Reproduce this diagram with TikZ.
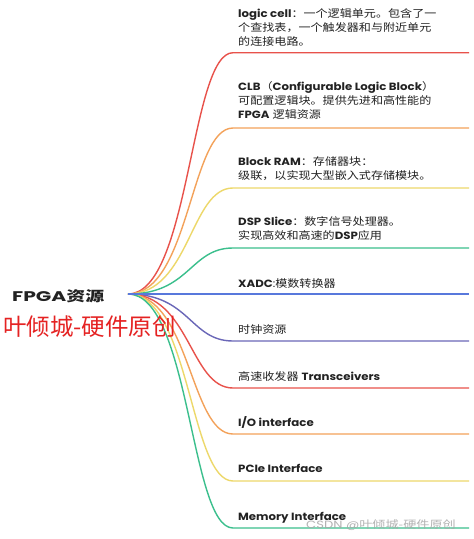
\documentclass[tikz,border=0pt]{standalone}
\usepackage{fontspec}
\setmainfont[FakeStretch=1.12]{Poppins}
\newfontfamily\cjk[FakeStretch=1.15]{Noto Sans CJK SC}
\newfontfamily\cjkroot[FakeStretch=1.35]{Noto Sans CJK SC}
\newfontfamily\latroot[FakeStretch=1.45]{Poppins}
\newfontfamily\cjkplain{Noto Sans CJK SC}
\newfontfamily\cjkwide[FakeStretch=1.25]{Noto Sans CJK SC}
\newfontfamily\latwide[FakeStretch=1.25]{Poppins}
\newcommand\zhs[1]{{\cjk #1}}
\definecolor{cRed}{HTML}{E8524B}
\definecolor{cOrange}{HTML}{F3A25A}
\definecolor{cYellow}{HTML}{EDD86A}
\definecolor{cGreen}{HTML}{3BBF8D}
\definecolor{cBlue}{HTML}{5878DC}
\definecolor{cPurple}{HTML}{6A67B8}
\definecolor{txtcol}{HTML}{222222}
\definecolor{wmred}{HTML}{E52222}
\begin{document}
\begin{tikzpicture}[x=1pt,y=-1pt,
  leaf/.style={anchor=north west,inner sep=0pt,align=left,text=txtcol,
    font=\fontsize{10.5}{14}\selectfont},
  branch/.style={line width=1.4pt}]
\useasboundingbox[fill=white] (0,0) rectangle (474,539);

% hub and root label
\coordinate (hub) at (128,294);
\node[anchor=west,inner sep=0pt,text=txtcol] (root) at (12,296)
  {\fontsize{14}{16}\selectfont\latroot\bfseries FPGA{\cjkroot\bfseries 资源}};

% leaf texts
\node[leaf] (t1) at (238,7.1) {\strut\textbf{logic cell}\zhs{：一个逻辑单元。包含了一}\\\zhs{个查找表，一个触发器和与附近单元}\\\zhs{的连接电路。}};
\node[leaf] (t2) at (238,80.4) {\strut\textbf{CLB}\zhs{（}\textbf{Configurable Logic Block}\zhs{）}\\\zhs{可配置逻辑块。提供先进和高性能的}\\\textbf{FPGA} \zhs{逻辑资源}};
\node[leaf] (t3) at (238,155.1) {\strut\textbf{Block RAM}\zhs{：存储器块：}\\\zhs{级联，以实现大型嵌入式存储模块。}};
\node[leaf] (t4) at (238,215.4) {\strut\textbf{DSP Slice}\zhs{：数字信号处理器。}\\\zhs{实现高效和高速的}\textbf{DSP}\zhs{应用}};
\node[leaf] (t5) at (238,277.1) {\strut\textbf{XADC}:\zhs{模数转换器}};
\node[leaf] (t6) at (238,323.4) {\strut\zhs{时钟资源}};
\node[leaf] (t7) at (238,370.1) {\strut\zhs{高速收发器} \textbf{Transceivers}};
\node[leaf] (t8) at (238,416.1) {\strut\textbf{I/O interface}};
\node[leaf] (t9) at (238,462.4) {\strut\textbf{PCIe Interface}};
\node[leaf] (t10) at (238,510.1) {\strut\textbf{Memory Interface}};

% underline start/end coordinates
\foreach \i/\y in {1/52.7,2/128,3/188,4/248,5/294,6/341,7/388,8/434,9/481,10/528}{
  \coordinate (s\i) at (233,\y);
  \coordinate (e\i) at (469,\y);
}

\foreach \i/\c in {1/cRed,2/cOrange,3/cYellow,4/cGreen,6/cPurple,7/cRed,8/cOrange,9/cYellow,10/cGreen}{
  \draw[branch,\c] (hub) .. controls +(62,0) and +(-43,0) .. (s\i) -- (e\i);
}
\draw[branch,cBlue] (hub) -- (e5);

% red watermark over the curves
\node[anchor=west,inner sep=0pt,text=wmred] (wm) at (3,327)
  {\fontsize{23.5}{26}\selectfont\cjkplain 叶倾城-硬件原创};

% CSDN watermark
\node[anchor=west,inner sep=0pt,text=gray!70,opacity=0.85] (csdn) at (306,525)
  {\fontsize{10.5}{12}\selectfont\latwide CSDN @{\cjkwide 叶倾城-硬件原创}};
\end{tikzpicture}
\end{document}
